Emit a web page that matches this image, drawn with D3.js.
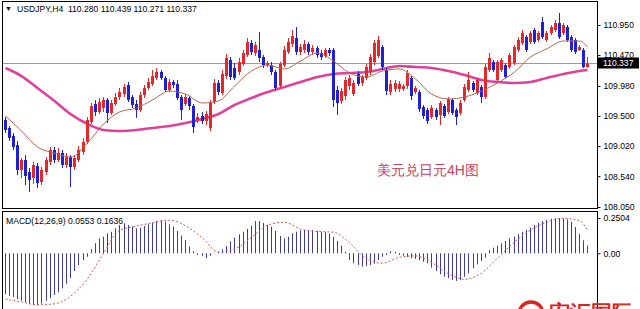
<!DOCTYPE html>
<html>
<head>
<meta charset="utf-8">
<script src="https://cdn.jsdelivr.net/npm/d3@7"></script>
<style>
  html, body { margin: 0; padding: 0; background: #fff; }
  svg { display: block; }
  text { font-family: "Liberation Sans", Arial, sans-serif; }
</style>
</head>
<body>
<svg id="chart" width="640" height="309"></svg>
<script>
// ---- data -------------------------------------------------------------
const symbol = "USDJPY,H4";
const lastBar = ["110.280", "110.439", "110.271", "110.337"];
const chartTitle = "美元兑日元4H图";
const brand = "宏汇国际";

const opens = [109.436,109.309,109.181,109.038,108.640,108.799,108.608,108.513,108.703,108.448,
108.608,108.767,108.958,108.799,108.910,108.719,108.846,108.687,108.799,108.926,
109.086,109.404,109.691,109.564,109.628,109.755,109.548,109.691,109.802,109.850,
109.994,109.802,109.691,109.596,109.834,109.947,110.010,110.106,110.201,110.106,
109.914,110.042,110.010,109.802,109.691,109.787,109.659,109.436,109.500,109.420,
109.309,109.723,110.026,109.866,110.137,110.392,110.265,110.201,110.328,110.472,
110.663,110.504,110.552,110.440,110.312,110.312,110.201,109.978,110.312,110.520,
110.647,110.743,110.520,110.552,110.647,110.520,110.584,110.504,110.456,110.552,
110.552,109.914,109.739,109.818,109.978,109.850,110.169,110.026,110.106,110.201,
110.360,110.456,110.599,110.233,109.882,109.931,109.931,109.931,109.978,110.106,
109.882,109.882,109.643,109.596,109.484,109.596,109.516,109.659,109.564,109.755,
109.596,109.548,109.755,109.914,110.026,109.866,109.962,109.802,110.233,110.360,
110.074,110.233,110.312,110.280,110.344,110.552,110.663,110.758,110.679,110.870,
110.711,110.998,110.711,110.822,110.870,110.982,110.822,110.918,110.758,110.711,
110.552,110.552,110.280];

const highs = [109.484,109.340,109.229,109.102,108.831,108.878,108.672,108.767,108.751,108.687,
108.846,109.006,109.006,108.991,108.958,108.910,108.878,108.878,109.022,109.150,
109.484,109.707,109.755,109.787,109.802,109.787,109.755,109.866,109.947,110.010,
110.042,109.834,109.755,109.882,109.994,110.106,110.233,110.265,110.233,110.137,
110.090,110.074,110.074,109.834,109.850,109.818,109.691,109.548,109.564,109.580,
109.755,110.090,110.074,110.233,110.488,110.440,110.344,110.425,110.552,110.743,
110.711,110.679,110.838,110.472,110.376,110.360,110.233,110.360,110.615,110.743,
110.870,110.918,110.647,110.711,110.679,110.631,110.615,110.552,110.584,110.584,
110.584,109.978,109.947,110.121,110.153,110.074,110.217,110.153,110.328,110.488,
110.711,110.774,110.631,110.265,110.074,110.074,110.058,110.010,110.233,110.137,
109.978,109.914,109.675,109.628,109.675,109.628,109.739,109.691,109.802,109.787,
109.628,109.755,110.010,110.201,110.058,110.106,109.994,110.328,110.504,110.392,
110.392,110.425,110.344,110.504,110.631,110.758,110.870,110.790,110.854,110.903,
110.854,111.077,110.854,110.950,111.030,111.141,110.982,110.950,110.790,110.743,
110.631,110.584,110.439];

const lows = [109.229,109.102,108.958,108.560,108.513,108.400,108.289,108.416,108.353,108.400,
108.560,108.719,108.751,108.767,108.672,108.672,108.368,108.640,108.767,108.878,
109.054,109.372,109.500,109.532,109.564,109.388,109.516,109.659,109.755,109.802,
109.723,109.628,109.469,109.564,109.787,109.914,109.978,110.074,110.074,109.882,
109.882,109.947,109.755,109.436,109.659,109.596,109.229,109.388,109.372,109.356,
109.261,109.691,109.834,109.834,110.090,110.074,110.074,110.153,110.296,110.440,
110.472,110.456,110.360,110.265,110.280,110.153,109.914,109.947,110.280,110.488,
110.599,110.472,110.472,110.504,110.472,110.472,110.425,110.392,110.425,110.456,
109.643,109.516,109.691,109.755,109.914,109.818,109.978,109.978,110.074,110.153,
110.312,110.425,110.233,109.834,109.834,109.882,109.882,109.898,109.931,109.755,
109.850,109.564,109.453,109.372,109.453,109.436,109.356,109.469,109.532,109.516,
109.356,109.516,109.723,109.882,109.882,109.834,109.707,109.771,110.201,110.201,
110.042,110.201,110.090,110.249,110.312,110.520,110.631,110.520,110.647,110.647,
110.679,110.727,110.679,110.790,110.838,110.727,110.790,110.679,110.520,110.488,
110.536,110.265,110.271];

const closes = [109.277,109.150,109.006,108.640,108.799,108.544,108.480,108.719,108.432,108.640,
108.799,108.958,108.799,108.910,108.719,108.846,108.687,108.831,108.958,109.086,
109.436,109.659,109.564,109.723,109.755,109.548,109.707,109.802,109.882,109.962,
109.755,109.675,109.596,109.834,109.947,110.042,110.137,110.201,110.106,109.914,
110.042,109.994,109.787,109.596,109.802,109.659,109.324,109.484,109.420,109.532,
109.707,110.026,109.882,110.169,110.425,110.121,110.106,110.360,110.504,110.679,
110.520,110.631,110.425,110.312,110.344,110.201,109.947,110.328,110.552,110.679,
110.774,110.520,110.599,110.647,110.520,110.584,110.472,110.440,110.552,110.504,
109.755,109.707,109.898,110.074,110.106,110.026,110.010,110.121,110.280,110.440,
110.663,110.711,110.280,109.898,110.010,110.026,110.010,109.978,110.185,109.818,
109.947,109.612,109.500,109.420,109.628,109.484,109.707,109.500,109.771,109.548,
109.484,109.707,109.962,110.074,109.914,110.074,109.802,110.280,110.425,110.233,
110.360,110.392,110.121,110.472,110.599,110.711,110.822,110.552,110.822,110.679,
110.822,110.758,110.822,110.918,110.982,110.758,110.950,110.711,110.552,110.520,
110.599,110.280,110.337];

// moving averages and MACD signal, read at every fourth bar
const maIndex = [0,4,8,12,16,20,24,28,32,36,40,44,48,52,56,60,64,68,72,76,80,84,88,92,96,100,
104,108,112,116,120,124,128,132,136,140,142];
const maFast = [109.500,109.261,109.006,108.910,108.846,109.070,109.372,109.564,109.628,109.755,
109.898,109.850,109.707,109.739,109.978,110.217,110.312,110.249,110.376,110.504,110.376,110.185,
110.121,110.217,110.249,110.090,109.850,109.771,109.802,109.898,110.026,110.201,110.440,110.568,
110.695,110.695,110.599];
const maSlow = [110.265,110.137,109.947,109.739,109.532,109.372,109.277,109.261,109.277,109.309,
109.340,109.388,109.453,109.532,109.675,109.787,109.882,109.962,110.042,110.121,110.169,110.185,
110.201,110.249,110.296,110.280,110.265,110.217,110.153,110.074,110.042,110.026,110.042,110.106,
110.169,110.217,110.233];
const macdSignal = [-0.325,-0.345,-0.366,-0.358,-0.305,-0.180,0.000,0.163,0.193,0.216,0.235,0.196,
0.108,0.010,0.030,0.112,0.200,0.220,0.172,0.155,0.150,0.075,-0.040,-0.070,-0.028,-0.018,-0.065,
-0.145,-0.185,-0.140,-0.035,0.080,0.165,0.220,0.248,0.232,0.1636];

const macdMain = [-0.291,-0.301,-0.310,-0.324,-0.336,-0.348,-0.360,-0.367,-0.369,-0.357,
-0.338,-0.319,-0.296,-0.277,-0.248,-0.216,-0.177,-0.126,-0.083,-0.048,
-0.024,0.030,0.071,0.106,0.118,0.142,0.153,0.177,0.201,0.213,
0.201,0.189,0.177,0.182,0.194,0.206,0.217,0.231,0.236,0.224,
0.206,0.189,0.158,0.125,0.094,0.047,0.016,-0.012,-0.017,-0.035,
-0.017,0.004,0.012,0.028,0.052,0.085,0.111,0.135,0.153,0.172,
0.196,0.229,0.229,0.215,0.201,0.189,0.158,0.123,0.106,0.118,
0.142,0.153,0.163,0.165,0.165,0.165,0.158,0.153,0.149,0.139,
0.116,0.087,0.054,0.011,-0.048,-0.071,-0.083,-0.095,-0.090,-0.083,
-0.074,-0.048,-0.024,-0.012,0.016,0.011,-0.012,-0.017,-0.026,-0.035,
-0.040,-0.048,-0.060,-0.071,-0.102,-0.126,-0.149,-0.166,-0.177,-0.189,
-0.196,-0.189,-0.166,-0.142,-0.106,-0.078,-0.055,-0.031,0.023,0.040,
0.054,0.071,0.087,0.106,0.118,0.135,0.153,0.167,0.182,0.201,
0.217,0.229,0.238,0.245,0.248,0.250,0.245,0.240,0.222,0.187,
0.139,0.092,0.0553];

const priceTicks = [110.950, 110.470, 109.980, 109.500, 109.020, 108.540, 108.050];
const macdTicks = [0.2504, 0];
const macdParams = "MACD(12,26,9)";

// ---- layout -------------------------------------------------------------
const W = 640, H = 309;
const plotL = 2.5, plotR = 597.5;
const mainTop = 1.5, mainBot = 208.5;
const subTop = 211.5;
const bullColor = "#e5262b", bearColor = "#1f1fd4";

const svg = d3.select("#chart");
const N = closes.length;

const x = d3.scaleBand().domain(d3.range(N)).range([3, 590]);
const step = x.step();
const left = i => Math.round(x(i) + step / 2 - 1.5);   // left edge of a 3px body
const mid = i => left(i) + 1.5;

const y = d3.scaleLinear().domain([108.050, 110.950]).range([207, 25]);
const ym = d3.scaleLinear().domain([0, 0.2504]).range([253.3, 218]);

svg.append("rect").attr("width", W).attr("height", H).attr("fill", "#fff");

// clip regions for each pane
const defs = svg.append("defs");
defs.append("clipPath").attr("id", "mainClip").append("rect")
  .attr("x", plotL).attr("y", mainTop).attr("width", plotR - plotL).attr("height", mainBot - mainTop);
defs.append("clipPath").attr("id", "subClip").append("rect")
  .attr("x", plotL).attr("y", subTop).attr("width", plotR - plotL).attr("height", H - subTop);

// ---- main pane --------------------------------------------------------------
const main = svg.append("g").attr("clip-path", "url(#mainClip)");

// last price line
main.append("line")
  .attr("x1", plotL).attr("x2", plotR)
  .attr("y1", Math.round(y(+lastBar[3])) + 0.5).attr("y2", Math.round(y(+lastBar[3])) + 0.5)
  .attr("stroke", "#9a9a9a").attr("stroke-width", 1);

const maLine = d3.line()
  .x((d, k) => mid(maIndex[k]))
  .y(d => y(d))
  .curve(d3.curveMonotoneX);

main.append("path").datum(maSlow).attr("d", maLine)
  .attr("fill", "none").attr("stroke", "#e0409a").attr("stroke-width", 2.6);

const candles = d3.range(N).map(i => ({ i, o: opens[i], h: highs[i], l: lows[i], c: closes[i] }));
const cg = main.append("g");
cg.selectAll("line.wick").data(candles).join("line")
  .attr("class", "wick")
  .attr("x1", d => mid(d.i)).attr("x2", d => mid(d.i))
  .attr("y1", d => y(d.h)).attr("y2", d => y(d.l))
  .attr("stroke", d => d.c >= d.o ? bullColor : bearColor).attr("stroke-width", 1);
cg.selectAll("rect.body").data(candles).join("rect")
  .attr("class", "body")
  .attr("x", d => left(d.i)).attr("width", 3)
  .attr("y", d => y(Math.max(d.o, d.c)))
  .attr("height", d => Math.max(1, Math.abs(y(d.o) - y(d.c))))
  .attr("fill", d => d.c >= d.o ? bullColor : bearColor);

main.append("path").datum(maFast).attr("d", maLine)
  .attr("fill", "none").attr("stroke", "#b8664e").attr("stroke-width", 1);

// chart caption
svg.append("text").attr("x", 377).attr("y", 175)
  .attr("font-family", "'Noto Sans CJK SC', sans-serif").attr("font-size", 14)
  .attr("fill", "#c9425c").text(chartTitle);

// header
svg.append("text").attr("x", 5).attr("y", 11).attr("font-size", 7).attr("fill", "#000").text("▼");
svg.append("text").attr("x", 17).attr("y", 12).attr("font-size", 8.6).attr("fill", "#000")
  .style("white-space", "pre")
  .text(symbol + "  " + lastBar.join(" "));

// pane frames
svg.append("rect").attr("x", plotL).attr("y", mainTop)
  .attr("width", plotR - plotL).attr("height", mainBot - mainTop)
  .attr("fill", "none").attr("stroke", "#000").attr("stroke-width", 1);
svg.append("rect").attr("x", plotL).attr("y", subTop)
  .attr("width", plotR - plotL).attr("height", H - subTop + 5)
  .attr("fill", "none").attr("stroke", "#000").attr("stroke-width", 1);

// price axis
const yAxis = d3.axisRight(y).tickValues(priceTicks).tickFormat(d3.format(".3f")).tickSize(3).tickPadding(3);
const ya = svg.append("g").attr("transform", `translate(${plotR},0)`).call(yAxis);
ya.select(".domain").remove();
ya.selectAll("text").attr("font-size", 8.6).attr("font-family", "'Liberation Sans', Arial, sans-serif").attr("fill", "#000");
ya.selectAll("line").attr("stroke", "#000");

// last price tag
const ty = y(+lastBar[3]);
svg.append("rect").attr("x", 598).attr("y", Math.round(ty) - 5.5).attr("width", 41).attr("height", 11).attr("fill", "#000");
svg.append("text").attr("x", 603).attr("y", ty + 3).attr("font-size", 8.6).attr("fill", "#fff").text(lastBar[3]);

// ---- MACD pane --------------------------------------------------------------
const sub = svg.append("g").attr("clip-path", "url(#subClip)");
sub.selectAll("line.hist").data(macdMain).join("line")
  .attr("class", "hist")
  .attr("x1", (d, i) => mid(i)).attr("x2", (d, i) => mid(i))
  .attr("y1", ym(0)).attr("y2", d => ym(d))
  .attr("stroke", "#3d3d9f").attr("stroke-width", 1);

const sigLine = d3.line()
  .x((d, k) => mid(maIndex[k]))
  .y(d => ym(d))
  .curve(d3.curveMonotoneX);
sub.append("path").datum(macdSignal).attr("d", sigLine)
  .attr("fill", "none").attr("stroke", "#d45656").attr("stroke-width", 1)
  .attr("stroke-dasharray", "2,2");

svg.append("text").attr("x", 6).attr("y", 224).attr("font-size", 8.6).attr("fill", "#000")
  .text(`${macdParams} ${macdMain[N - 1].toFixed(4)} ${macdSignal[macdSignal.length - 1].toFixed(4)}`);

const mAxis = d3.axisRight(ym).tickValues(macdTicks)
  .tickFormat(d => d === 0 ? "0.00" : d.toFixed(4)).tickSize(3).tickPadding(3);
const ma = svg.append("g").attr("transform", `translate(${plotR},0)`).call(mAxis);
ma.select(".domain").remove();
ma.selectAll("text").attr("font-size", 8.6).attr("font-family", "'Liberation Sans', Arial, sans-serif").attr("fill", "#000");
ma.selectAll("line").attr("stroke", "#000");

// brand mark in the lower right corner
const logo = svg.append("g").attr("fill", "#d8261f");
logo.append("circle").attr("cx", 531).attr("cy", 314).attr("r", 12)
  .attr("fill", "none").attr("stroke", "#d8261f").attr("stroke-width", 3.5);
logo.append("circle").attr("cx", 531).attr("cy", 314).attr("r", 5);
logo.append("text").attr("x", 549).attr("y", 320)
  .attr("font-family", "'Noto Sans CJK SC', sans-serif").attr("font-weight", "bold")
  .attr("font-size", 21).text(brand);
</script>
</body>
</html>
